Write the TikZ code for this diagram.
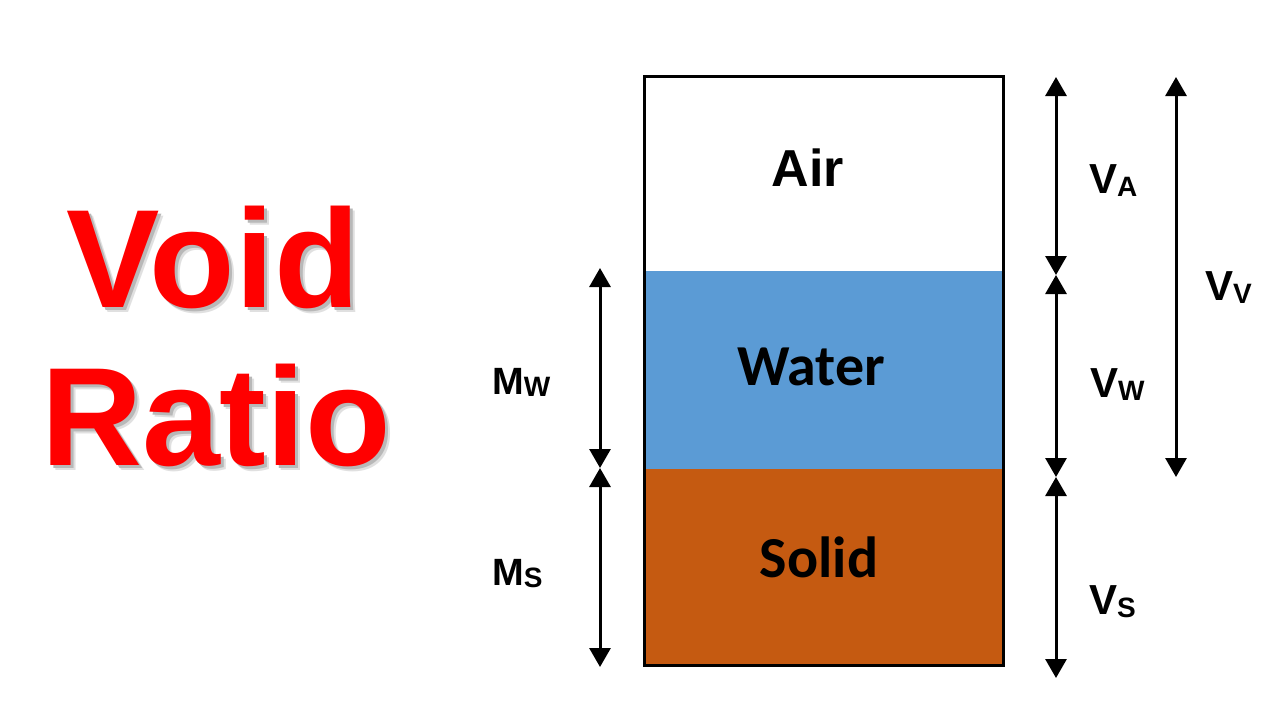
\documentclass[tikz,border=0pt]{standalone}
\usepackage{fontspec}
\setmainfont{Liberation Sans}
\newfontfamily\calib{Carlito}
\usetikzlibrary{arrows.meta}
\definecolor{waterblue}{HTML}{5B9BD5}
\definecolor{solidbrown}{HTML}{C55A11}
\definecolor{titlered}{HTML}{FF0000}
\newcommand{\biglab}[2]{{\fontsize{42}{42}\selectfont\bfseries #1\raisebox{-3pt}{\fontsize{28}{28}\selectfont\bfseries #2}}}
\newcommand{\masslab}[2]{{\fontsize{38}{38}\selectfont\bfseries #1\raisebox{-2pt}{\fontsize{28}{28}\selectfont\bfseries #2}}}
\begin{document}
\begin{tikzpicture}[x=1pt,y=-1pt,
  dimarrow/.style={line width=3pt,{Triangle[width=21pt,length=19pt]}-{Triangle[width=21pt,length=19pt]}},
  layertext/.style={anchor=base,inner sep=0pt,font=\calib\bfseries\fontsize{58}{58}\selectfont},
  dimlabel/.style={anchor=base west,inner sep=0pt},
  titletext/.style={anchor=base,inner sep=0pt,font=\bfseries\fontsize{140}{140}\selectfont}]
\useasboundingbox[fill=white] (0,0) rectangle (1280,720);

% title with soft shadow
\node[titletext,text=black!12] (voidsh2) at (218,312) {Void};
\node[titletext,text=black!28] (voidsh) at (216,310) {Void};
\node[titletext,text=titlered] (void) at (213,307) {Void};
\node[titletext,text=black!12] (ratiosh2) at (221,470) {Ratio};
\node[titletext,text=black!28] (ratiosh) at (219,468) {Ratio};
\node[titletext,text=titlered] (ratio) at (216,465) {Ratio};

% layers
\fill[white] (644,76) rectangle (1003,271);
\fill[waterblue] (644,271) rectangle (1003,469);
\fill[solidbrown] (644,469) rectangle (1003,665);
\draw[line width=3pt] (644,76) rectangle (1003,665);

\node[anchor=base,inner sep=0pt,font=\bfseries\fontsize{52}{52}\selectfont] (air) at (808,186) {Air};
\node[layertext] (water) at (811,385) {Water};
\node[layertext] (solid) at (819,577) {Solid};

% dimension coordinates
\coordinate (va1) at (1056,77);
\coordinate (va2) at (1056,275);
\coordinate (vw2) at (1056,477);
\coordinate (vs2) at (1056,678);
\coordinate (vv1) at (1176,77);
\coordinate (vv2) at (1176,477);
\coordinate (mw1) at (600,268);
\coordinate (mw2) at (600,468);
\coordinate (ms2) at (600,667);

\draw[dimarrow] (va1) -- (va2);
\draw[dimarrow] (va2) -- (vw2);
\draw[dimarrow] (vw2) -- (vs2);
\draw[dimarrow] (vv1) -- (vv2);
\draw[dimarrow] (mw1) -- (mw2);
\draw[dimarrow] (mw2) -- (ms2);

\node[dimlabel] (lva) at (1089,193) {\biglab{V}{A}};
\node[dimlabel] (lvw) at (1090,397) {\biglab{V}{W}};
\node[dimlabel] (lvs) at (1089,614) {\biglab{V}{S}};
\node[dimlabel] (lvv) at (1205,300) {\biglab{V}{V}};
\node[dimlabel] (lmw) at (492,394) {\masslab{M}{W}};
\node[dimlabel] (lms) at (492,585) {\masslab{M}{S}};
\end{tikzpicture}
\end{document}
